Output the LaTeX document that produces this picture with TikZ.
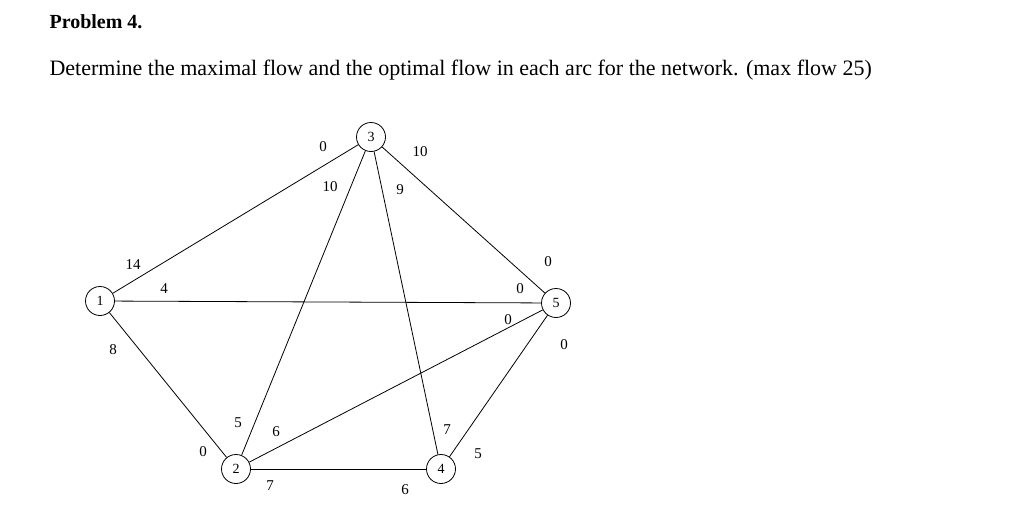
\documentclass[tikz,border=0pt]{standalone}
\usepackage{fontspec}
\setmainfont{Liberation Serif}
\begin{document}
\begin{tikzpicture}[x=1pt,y=-1pt,
  vtx/.style={circle,draw,thick,minimum size=29pt,inner sep=0pt,font=\fontsize{14}{14}\selectfont,fill=white},
  lab/.style={font=\fontsize{15}{15}\selectfont,inner sep=0pt},
  edge/.style={line width=0.8pt}]
\useasboundingbox (0,0) rectangle (1024,506);
\node[anchor=west,font=\fontsize{20}{20}\selectfont\bfseries] (t1) at (46,22) {Problem 4.};
\node[anchor=west,font=\fontsize{22}{22}\selectfont] (t2) at (46,70) {Determine the maximal flow and the optimal flow in each arc for the network. (max flow 25)};
\node[vtx] (n1) at (100,301) {1};
\node[vtx] (n3) at (371,137) {3};
\node[vtx] (n5) at (556,303) {5};
\node[vtx] (n2) at (236,469) {2};
\node[vtx] (n4) at (441,469) {4};
\draw[edge] (n1)--(n3); \draw[edge] (n1)--(n5); \draw[edge] (n1)--(n2);
\draw[edge] (n3)--(n2); \draw[edge] (n3)--(n4); \draw[edge] (n3)--(n5);
\draw[edge] (n2)--(n5); \draw[edge] (n2)--(n4); \draw[edge] (n4)--(n5);
\node[lab] (a1) at (323,147) {0};
\node[lab] (a2) at (420,152) {10};
\node[lab] (a3) at (330,187) {10};
\node[lab] (a4) at (400,190) {9};
\node[lab] (a5) at (133,265) {14};
\node[lab] (a6) at (164,289) {4};
\node[lab] (a7) at (548,262) {0};
\node[lab] (a8) at (520,289) {0};
\node[lab] (a9) at (508,320) {0};
\node[lab] (a10) at (564,345) {0};
\node[lab] (a11) at (113,350) {8};
\node[lab] (a12) at (238,423) {5};
\node[lab] (a13) at (276,432) {6};
\node[lab] (a14) at (203,452) {0};
\node[lab] (a15) at (270,486) {7};
\node[lab] (a16) at (447,430) {7};
\node[lab] (a17) at (478,454) {5};
\node[lab] (a18) at (405,490) {6};
\end{tikzpicture}
\end{document}
